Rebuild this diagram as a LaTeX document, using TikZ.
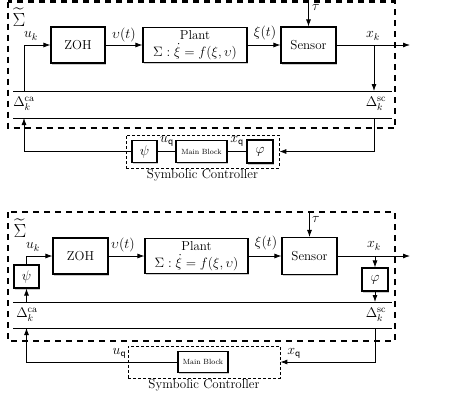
\RequirePackage{fix-cm}
\documentclass[tikz,border=0pt]{standalone}
\usepackage{amsmath,amssymb}
\usepackage{tikz}
\usetikzlibrary{arrows,arrows.meta,shadows,positioning}

\begin{document}
\begin{tikzpicture}[x=1pt, y=-1pt, line width=0.8pt, >={Latex[length=7pt,width=5pt]},
    font=\fontsize{13}{15}\selectfont,
    block/.style={draw, line width=1.1pt, fill=white, inner sep=1pt,
        drop shadow={shadow xshift=1.3pt, shadow yshift=-1.6pt, fill=black!40}},
    frame/.style={draw, line width=2.5pt, dash pattern=on 6pt off 5pt},
    ctrlbox/.style={draw, line width=0.7pt, dash pattern=on 3pt off 2pt},
    bus/.style={line width=0.7pt},
    sig/.style={font=\fontsize{14}{16}\selectfont},
    mainfont/.style={font=\fontsize{7.5}{8}\selectfont}]
    \useasboundingbox (0,0) rectangle (474,413);

    % Top: controller outside the network
    \draw[frame] (8,1.5) rectangle (395,128);
    \node[font=\fontsize{19}{20}\selectfont] (sigT) at (19,17) {$\widetilde{\Sigma}$};

    \node[block, minimum width=54pt, minimum height=36pt] (zohT) at (78,45) {ZOH};
    \node[block, minimum width=104pt, minimum height=35pt, align=center] (plantT) at (195,45)
        {Plant\\[2pt] \fontsize{13.6}{15}\selectfont$\Sigma:\dot{\xi}=f(\xi,\upsilon)$};
    \node[block, minimum width=55pt, minimum height=36pt] (sensorT) at (308.5,45) {Sensor};

    \coordinate (tauT) at (308.5,0);
    \draw[->] (tauT) -- (sensorT.north);
    \node[sig] (tauLabT) at (316,7) {$\tau$};

    \draw[->] (zohT) -- (plantT);
    \draw[->] (plantT) -- (sensorT);
    \coordinate (outT) at (410,45);
    \draw[->] (sensorT) -- (outT);
    \coordinate (xkT) at (374,45);
    \coordinate (scInT) at (374,91);
    \draw[->] (xkT) -- (scInT);

    \node[sig] (ukLabT) at (31,36) {$u_k$};
    \node[sig] (vLabT) at (124,35) {$\upsilon(t)$};
    \node[sig] (xiLabT) at (265,33) {$\xi(t)$};
    \node[sig] (xkLabT) at (373,36) {$x_k$};

    % network
    \draw[bus] (13,91) -- (392,91);
    \draw[bus] (13,118) -- (392,118);
    \node[sig] (caLabT) at (24,104) {$\Delta_k^{\mathrm{ca}}$};
    \node[sig] (scLabT) at (376,104) {$\Delta_k^{\mathrm{sc}}$};
    \coordinate (caOutT) at (24,91);
    \draw[->] (caOutT) |- (zohT.west);

    % symbolic controller
    \node[ctrlbox, minimum width=153pt, minimum height=33pt] (ctrlT) at (202.5,151.5) {};
    \node[inner sep=1pt, below=0pt of ctrlT] (ctrlLabT) {Symbolic Controller};
    \node[block, sig, minimum width=25pt, minimum height=22pt] (psiT) at (144.5,151.5) {$\psi$};
    \node[block, mainfont, minimum width=51pt, minimum height=22pt] (mainT) at (201.5,151.5) {Main Block};
    \node[block, sig, minimum width=26pt, minimum height=23pt] (phiT) at (260,151.5) {$\varphi$};
    \draw (psiT) -- (mainT);
    \draw (mainT) -- (phiT);
    \node[sig] (uqLabT) at (167,141) {$u_{\mathsf{q}}$};
    \node[sig] (xqLabT) at (237,141) {$x_{\mathsf{q}}$};
    \coordinate (caInT) at (24,118);
    \draw[->] (psiT.west) -| (caInT);
    \coordinate (scOutT) at (374,118);
    \draw[->] (scOutT) |- (ctrlT.east);

    % Bottom: quantizers inside the network
    \draw[frame] (8,212) rectangle (395,341);
    \node[font=\fontsize{19}{20}\selectfont] (sigB) at (20,228) {$\widetilde{\Sigma}$};

    \node[block, minimum width=55pt, minimum height=36pt] (zohB) at (80.5,256) {ZOH};
    \node[block, minimum width=103pt, minimum height=35pt, align=center] (plantB) at (196.5,256)
        {Plant\\[2pt] \fontsize{13.6}{15}\selectfont$\Sigma:\dot{\xi}=f(\xi,\upsilon)$};
    \node[block, minimum width=55pt, minimum height=37pt] (sensorB) at (309.5,256) {Sensor};

    \coordinate (tauB) at (309.5,212);
    \draw[->] (tauB) -- (sensorB.north);
    \node[sig] (tauLabB) at (316,219) {$\tau$};

    \draw[->] (zohB) -- (plantB);
    \draw[->] (plantB) -- (sensorB);
    \coordinate (outB) at (410,256);
    \draw[->] (sensorB) -- (outB);

    \node[block, sig, minimum width=26pt, minimum height=23pt] (phiB) at (375,279.5) {$\varphi$};
    \coordinate (xkB) at (375,256);
    \draw[->] (xkB) -- (phiB.north);
    \coordinate (scInB) at (375,302);
    \draw[->] (phiB.south) -- (scInB);

    \node[block, sig, minimum width=25pt, minimum height=23pt] (psiB) at (26.5,276.5) {$\psi$};
    \coordinate (caOutB) at (26.5,302);
    \draw[->] (caOutB) -- (psiB.south);
    \draw[->] (psiB.north) |- (zohB.west);

    \node[sig] (ukLabB) at (33,247) {$u_k$};
    \node[sig] (vLabB) at (123,245) {$\upsilon(t)$};
    \node[sig] (xiLabB) at (266,243) {$\xi(t)$};
    \node[sig] (xkLabB) at (374,246) {$x_k$};

    % network
    \draw[bus] (13,302) -- (392,302);
    \draw[bus] (13,328) -- (392,328);
    \node[sig] (caLabB) at (27,315) {$\Delta_k^{\mathrm{ca}}$};
    \node[sig] (scLabB) at (376,315) {$\Delta_k^{\mathrm{sc}}$};

    % symbolic controller
    \node[ctrlbox, minimum width=152pt, minimum height=32pt] (ctrlB) at (204,362) {};
    \node[inner sep=1pt, below=0pt of ctrlB] (ctrlLabB) {Symbolic Controller};
    \node[block, mainfont, minimum width=50pt, minimum height=21pt] (mainB) at (203,362) {Main Block};
    \coordinate (caInB) at (26.5,328);
    \draw[->] (mainB.west) -| (caInB);
    \coordinate (scOutB) at (375,328);
    \draw[->] (scOutB) |- (ctrlB.east);
    \node[sig] (uqLabB) at (119.5,353) {$u_{\mathsf{q}}$};
    \node[sig] (xqLabB) at (294,353) {$x_{\mathsf{q}}$};
\end{tikzpicture}
\end{document}
